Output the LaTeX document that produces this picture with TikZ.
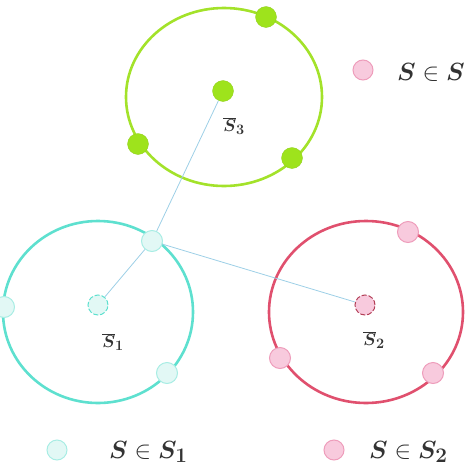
\documentclass[tikz,border=0pt]{standalone}
\usepackage{bm}
\usetikzlibrary{shapes.geometric}
\definecolor{lime}{HTML}{A3E22A}
\definecolor{limedot}{HTML}{9EE31C}
\definecolor{cyanring}{HTML}{5EE0CF}
\definecolor{cyandot}{HTML}{E2F8F5}
\definecolor{cyanedge}{HTML}{A8EDE4}
\definecolor{redring}{HTML}{E0506E}
\definecolor{pinkdot}{HTML}{F8CADD}
\definecolor{pinkedge}{HTML}{EE9DBB}
\definecolor{linkblue}{HTML}{9DCFE6}
\definecolor{txt}{HTML}{333333}
\tikzset{
  x=1pt, y=-1pt,
  ring/.style={line width=2.6pt},
  gdot/.style={circle, fill=limedot, draw=limedot!90!black, line width=0.3pt, minimum size=21pt, inner sep=0pt},
  cdot/.style={circle, fill=cyandot, draw=cyanedge, line width=1pt, minimum size=21pt, inner sep=0pt},
  pdot/.style={circle, fill=pinkdot, draw=pinkedge, line width=1pt, minimum size=21pt, inner sep=0pt},
  cdash/.style={cdot, draw=cyanring, dashed, dash pattern=on 5pt off 2pt, minimum size=20pt},
  pdash/.style={pdot, draw=redring!80!black, dashed, dash pattern=on 5pt off 2pt, minimum size=20pt},
  link/.style={draw=linkblue, line width=0.8pt},
  lbl/.style={text=txt, font=\fontsize{19}{19}\selectfont, inner sep=0pt},
  leg/.style={text=txt, font=\fontsize{29}{29}\selectfont, inner sep=0pt, anchor=west},
}
\begin{document}
\begin{tikzpicture}
\useasboundingbox (0,0) rectangle (474,474);
\clip (0,0) rectangle (474,474);
% rings
\draw[ring, lime] (224,97) ellipse [x radius=98, y radius=89];
\draw[ring, cyanring] (98,312) ellipse [x radius=95, y radius=91];
\draw[ring, redring] (366,312) ellipse [x radius=97, y radius=91];
% nodes
\node[gdot] (g0) at (223,91) {};
\node[gdot] (g1) at (266,17) {};
\node[gdot] (g2) at (138,144) {};
\node[gdot] (g3) at (292,158) {};
\node[cdash] (c0) at (98,305) {};
\node[cdot] (c1) at (152,241) {};
\node[cdot] (c2) at (4,307) {};
\node[cdot] (c3) at (167,373) {};
\node[pdash] (p0) at (365,305) {};
\node[pdot] (p1) at (408,232) {};
\node[pdot] (p2) at (280,358) {};
\node[pdot] (p3) at (433,373) {};
% links
\draw[link] (c1) -- (g0);
\draw[link] (c1) -- (c0);
\draw[link] (c1) -- (p0);
% labels
\node[lbl] (l3) at (234,126) {$\bm{\overline{S}_3}$};
\node[lbl] (l1) at (113,342) {$\bm{\overline{S}_1}$};
\node[lbl] (l2) at (374,340) {$\bm{\overline{S}_2}$};
% legend
\node[pdot, minimum size=20pt] (k3) at (363,70) {};
\node[leg] (t3) at (397,72) {$\bm{S}\in\bm{S}$};
\node[cdot, minimum size=20pt] (k1) at (57,450) {};
\node[leg] (t1) at (109,452) {$\bm{S}\in\bm{S}_{\bm{1}}$};
\node[pdot, minimum size=20pt] (k2) at (334,450) {};
\node[leg] (t2) at (369,452) {$\bm{S}\in\bm{S}_{\bm{2}}$};
\end{tikzpicture}
\end{document}
